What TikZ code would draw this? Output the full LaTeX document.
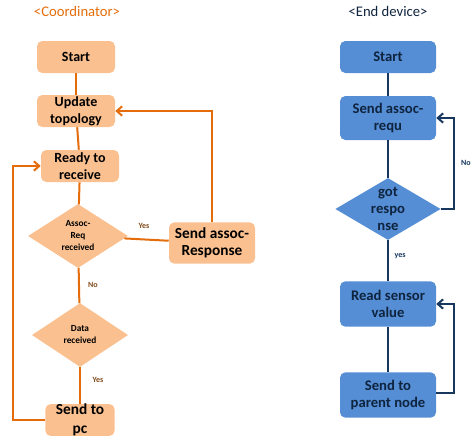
\documentclass[tikz,border=0pt]{standalone}
\usepackage{fontspec}
\setmainfont{Carlito}
\usepackage{tikz}
\usetikzlibrary{arrows,arrows.meta,shapes,shapes.geometric,positioning,calc}
\definecolor{orangefill}{HTML}{FAC090}
\definecolor{orangeline}{HTML}{E46C0A}
\definecolor{orangetext}{HTML}{7F4A1A}
\definecolor{bluefill}{HTML}{558ED5}
\definecolor{blueline}{HTML}{17375E}
\definecolor{bluetext}{HTML}{0F243E}
\tikzset{
	coordbox/.style={rectangle, rounded corners=4pt, fill=orangefill, align=center, font=\fontsize{10.5}{12.5}\selectfont\bfseries, inner sep=0pt},
	coorddec/.style={diamond, fill=orangefill, inner sep=0pt},
	devbox/.style={rectangle, rounded corners=4pt, fill=bluefill, align=center, text=bluetext, font=\fontsize{11}{13}\selectfont\bfseries, inner sep=0pt, minimum width=72pt},
	devdec/.style={diamond, fill=bluefill, inner sep=0pt},
	coordline/.style={draw=orangeline, line width=1.5pt},
	devline/.style={draw=blueline, line width=1.5pt},
	smalltag/.style={font=\fontsize{6}{7}\selectfont\bfseries}
}
\begin{document}
\begin{tikzpicture}[x=0.75pt, y=-0.75pt, >={Straight Barb[length=4pt, width=7pt]}]
	\useasboundingbox (0,0) rectangle (474,439);
	\node (coordtitle)		at	(77, 11)	{\fontsize{11}{13}\selectfont\color{orangeline}<Coordinator>};
		\node[coordbox, minimum width=58.5pt, minimum height=24pt] (coordstart)		at	(76, 57)	{Start};
		\node[coordbox, minimum width=58.5pt, minimum height=24pt] (coordupdate)	at	(76, 111)	{Update\\topology};
		\node[coordbox, minimum width=58.5pt, minimum height=24pt] (coordready)	at	(80, 166)	{Ready to\\receive};
		\node[coorddec, minimum width=75pt, minimum height=48pt,
			label={[align=center, font=\fontsize{7}{9}\selectfont\bfseries]center:Assoc-\\Req\\received}] (coordassoc)	at	(78, 236)	{};
		\node[coordbox, minimum width=64.5pt, minimum height=31pt, font=\fontsize{11.5}{13}\selectfont\bfseries] (coordresp)	at	(212, 243)	{Send assoc-\\Response};
		\node[coorddec, minimum width=72pt, minimum height=48pt,
			label={[align=center, font=\fontsize{7}{9}\selectfont\bfseries]center:Data\\received}] (coorddata)	at	(80, 335)	{};
		\node[coordbox, minimum width=52pt, minimum height=23pt, font=\fontsize{11.5}{14}\selectfont\bfseries] (coordsendpc)	at	(80, 420)	{Send to\\pc};
		\coordinate (coordloop)	at	(13, 420);
		\node[smalltag, text=orangetext] (coordyesa)	at	(144, 226)	{Yes};
		\node[smalltag, text=orangetext] (coordno)	at	(93, 285)	{No};
		\node[smalltag, text=orangetext] (coordyesb)	at	(98, 380)	{Yes};
		\draw[coordline] (coordstart) -- (coordupdate);
		\draw[coordline] (coordupdate) -- (coordready);
		\draw[coordline] (coordready) -- (coordassoc);
		\draw[coordline] (coordassoc) -- (coordresp);
		\draw[coordline] (coordassoc) -- (coorddata);
		\draw[coordline] (coorddata) -- (coordsendpc);
		\draw[coordline, ->] (coordresp.north) |- (coordupdate.east);
		\draw[coordline, ->] (coordsendpc.west) -- (coordloop) |- (coordready.west);
	\node (devtitle)		at	(388, 11)	{\fontsize{11}{13}\selectfont\color{bluetext}<End device>};
		\node[devbox, minimum height=24pt] (devstart)		at	(388, 57)	{Start};
		\node[devbox, minimum height=33pt] (devsendreq)	at	(388, 118)	{Send assoc-\\requ};
		\node[devdec, minimum width=79pt, minimum height=46.5pt,
			label={[align=center, text=bluetext, font=\fontsize{11}{13}\selectfont\bfseries]center:got\\respo\\nse}] (devgot)	at	(388, 209)	{};
		\node[devbox, minimum height=34pt] (devread)		at	(388, 304)	{Read sensor\\value};
		\node[devbox, minimum height=34pt] (devsendparent)	at	(388, 395)	{Send to\\parent node};
		\coordinate (devnoloop)	at	(454, 209);
		\coordinate (devreadloop)	at	(454, 393);
		\node[smalltag, text=blueline] (devno)	at	(466, 163)	{No};
		\node[smalltag, text=blueline] (devyes)	at	(400, 256)	{yes};
		\draw[devline] (devstart) -- (devsendreq);
		\draw[devline] (devsendreq) -- (devgot);
		\draw[devline] (devgot) -- (devread);
		\draw[devline] (devread) -- (devsendparent);
		\draw[devline, ->] (devgot.east) -- (devnoloop) |- (devsendreq.east);
		\draw[devline, ->] (devsendparent.east |- devreadloop) -- (devreadloop) |- (devread.east);
	\end{tikzpicture}
\end{document}
